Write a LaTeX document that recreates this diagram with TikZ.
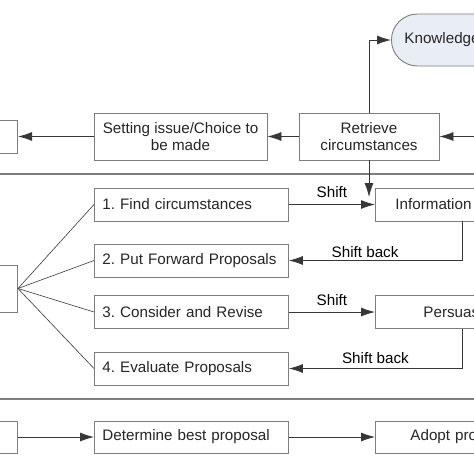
\documentclass[tikz,border=0pt]{standalone}
\usepackage{fontspec}
\setmainfont{Liberation Sans}
\usetikzlibrary{arrows.meta, positioning}
\definecolor{boxline}{RGB}{125,125,125}
\definecolor{kbfill}{RGB}{232,237,246}
\definecolor{inkline}{RGB}{55,55,55}

\begin{document}
\begin{tikzpicture}[
    x=1pt, y=-1pt,
    font=\fontsize{15.2}{17}\selectfont,
    box/.style={
      rectangle,
      draw=boxline,
      fill=white,
      line width=0.9pt,
      text=black!85,
      align=center,
      inner sep=0pt
    },
    stepbox/.style={
      box,
      anchor=west,
      minimum height=33pt,
      text width=178pt,
      inner xsep=8pt,
      align=left
    },
    sidebox/.style={
      box,
      anchor=west,
      minimum height=33pt,
      text width=150pt,
      align=left
    },
    stub/.style={
      box,
      anchor=east,
      minimum width=60pt
    },
    arrow/.style={
      -{Latex[length=14pt,width=9pt]},
      draw=inkline,
      line width=0.8pt
    },
    fan/.style={
      draw=inkline,
      line width=0.6pt
    },
    divider/.style={
      draw=boxline,
      line width=1.6pt
    }
  ]

  % Khung nhìn
  \useasboundingbox (0,0) rectangle (474,474);
  \clip (0,0) rectangle (474,474);

  % Hàng trên
  \node[box, fill=kbfill, rounded corners=26pt, anchor=west, minimum height=52pt,
        text width=140pt, inner xsep=13pt, align=left] (knowledge) at (391,40) {Knowledge};
  \node[box, minimum width=140pt, minimum height=47pt] (retrieve) at (369,136.5) {Retrieve\\circumstances};
  \node[box, minimum width=173pt, minimum height=47pt] (setting) at (180.5,136.5) {Setting issue/Choice to\\be made};
  \node[stub, minimum height=33pt] (stubtop) at (18,136.5) {};
  \coordinate (feed) at (480,136.5);
  \coordinate (drophead) at (369,197);

  % Các đường phân cách
  \draw[divider] (0,174) -- (474,174);
  \draw[divider] (0,399) -- (474,399);

  % Hàng giữa
  \node[stub, minimum height=47pt] (stubmid) at (18,288.5) {};
  \node[stepbox] (find) at (94,204.5) {1.\ Find circumstances};
  \node[stepbox] (put) at (94,260.5) {2.\ Put Forward Proposals};
  \node[stepbox] (consider) at (94,312) {3.\ Consider and Revise};
  \node[stepbox] (evaluate) at (94,368.5) {4.\ Evaluate Proposals};
  \node[sidebox, inner xsep=20pt] (info) at (375,204.5) {Information};
  \node[sidebox, inner xsep=48pt] (persuasion) at (375,312) {Persuasion};
  \coordinate (backx) at (462,0);

  % Hàng dưới
  \node[stub, minimum height=32pt] (stubbot) at (18,437) {};
  \node[stepbox, minimum height=32pt] (determine) at (94,437) {Determine best proposal};
  \node[sidebox, minimum height=32pt, inner xsep=35pt] (adopt) at (375,437) {Adopt proposal};

  % Các mũi tên
  \draw[arrow] (feed) -- (retrieve);
  \draw[arrow] (retrieve) -- (setting);
  \draw[arrow] (setting) -- (stubtop);
  \draw[arrow] (retrieve.north) |- (knowledge.west);
  \draw[arrow] (retrieve.south) -- (drophead);

  \draw[arrow] (find) -- (info) node[midway, above=3pt] {Shift};
  \draw[arrow] (info.south -| backx) |- (put.east) node[pos=0.78, above=-1pt] {Shift back};
  \draw[arrow] (consider) -- (persuasion) node[midway, above=3pt] {Shift};
  \draw[arrow] (persuasion.south -| backx) |- (evaluate.east) node[pos=0.75, above=1pt] {Shift back};

  \draw[arrow] (stubbot) -- (determine);
  \draw[arrow] (determine) -- (adopt);

  % Các nhánh
  \foreach \step in {find, put, consider, evaluate}
    \draw[fan] (stubmid.east) -- (\step.west);

\end{tikzpicture}
\end{document}
